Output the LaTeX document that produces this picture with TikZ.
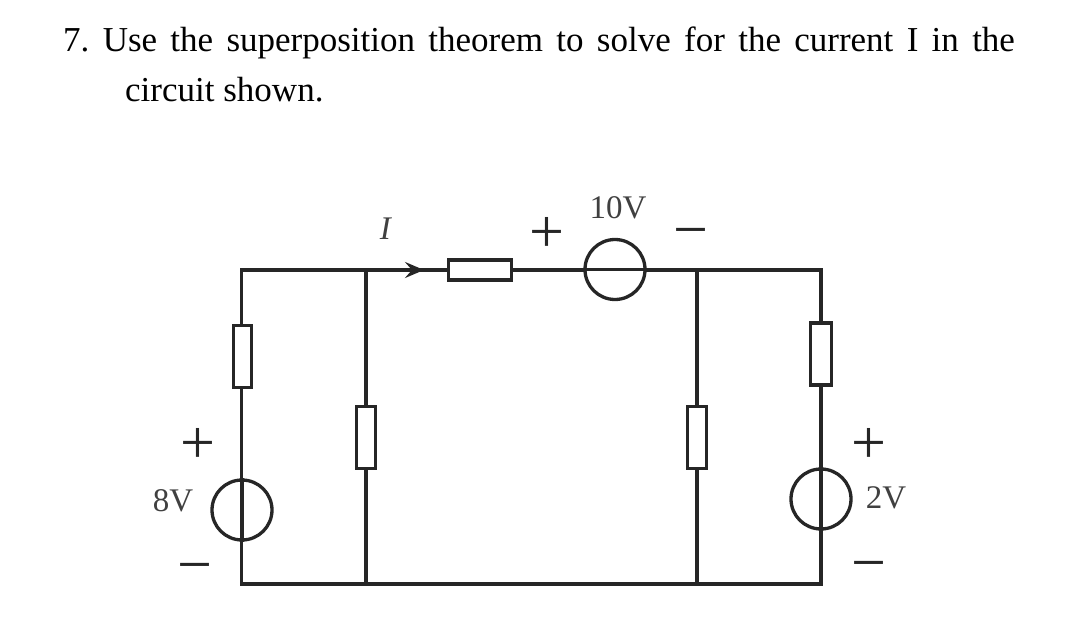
\documentclass[tikz,border=0pt]{standalone}
\usepackage{fontspec}
\setmainfont{Liberation Serif}
\usepackage{tikz}
\usetikzlibrary{positioning}
\usetikzlibrary{calc}
\usetikzlibrary{arrows.meta}

\begin{document}
\begin{tikzpicture}
  [
    x=1pt,y=-1pt,
    wire/.style={draw=black!85,line width=3.3pt},
    res/.style={draw=black!85,fill=white,line width=3.3pt,inner sep=0pt,minimum width=19pt,minimum height=62pt},
    resh/.style={draw=black!85,fill=white,line width=3.3pt,inner sep=0pt,minimum width=63pt,minimum height=20pt},
    src/.style={circle,draw=black!85,fill=white,line width=3.3pt,inner sep=0pt,minimum size=60pt},
    lbl/.style={inner sep=0pt,text=black!75,font=\fontsize{33}{33}\selectfont},
    sgn/.style={inner sep=0pt,text=black!85,font=\fontsize{62}{62}\selectfont},
    txt/.style={inner sep=0pt,anchor=base west,font=\fontsize{35}{35}\selectfont}
  ]
  \useasboundingbox (0,0) rectangle (1080,639);

  % corners and junctions
  \coordinate (tl) at (241.5,270);
  \coordinate (tm) at (366,270);
  \coordinate (tn) at (697,270);
  \coordinate (tr) at (821,270);
  \coordinate (bl) at (241.5,584);
  \coordinate (bm) at (366,584);
  \coordinate (bn) at (697,584);
  \coordinate (br) at (821,584);

  \draw [wire] (tl) -- (tr) -- (br) -- (bl) -- cycle;
  \draw [wire] (tm) -- (bm);
  \draw [wire] (tn) -- (bn);

  \node (r1) at (242.5,356.5) [res,minimum width=18pt] {};
  \node (r2) at (366,437.5) [res] {};
  \node (r3) at (480,270) [resh] {};
  \node (r4) at (697,437.5) [res] {};
  \node (r5) at (821,354) [res,minimum width=21pt] {};

  \node (e8) at (242,510) [src] {};
  \node (e10) at (615,269.5) [src] {};
  \node (e2) at (821,499) [src] {};
  \draw [wire] (e8.north) -- (e8.south);
  \draw [wire] (e10.west) -- (e10.east);
  \draw [wire] (e2.north) -- (e2.south);

  \coordinate (atail) at (387,270);
  \coordinate (ahead) at (424,270);
  \draw [-{Stealth[length=19pt,width=16pt,inset=7pt]},draw=black!85,fill=black!85,line width=3pt] (atail) -- (ahead);

  \node (lI) at (386,229) [lbl] {\textit{I}};
  \node (l10) at (618,208) [lbl] {10V};
  \node (l8) at (173,501) [lbl] {8V};
  \node (l2) at (886,498) [lbl] {2V};

  \node (pa) at (546.5,235) [sgn] {+};
  \node (ma) at (691,239.5) [sgn] {−};
  \node (pb) at (198,446) [sgn] {+};
  \node (mb) at (195,574.5) [sgn] {−};
  \node (pc) at (869,446) [sgn] {+};
  \node (mc) at (869,572.5) [sgn] {−};

  \node (line1) at (63,52) [txt] {\spaceskip=13.3pt\xspaceskip=13.3pt 7. Use the superposition theorem to solve for the current I in the};
  \node (line2) at (125,102) [txt] {circuit shown.};
\end{tikzpicture}
\end{document}
